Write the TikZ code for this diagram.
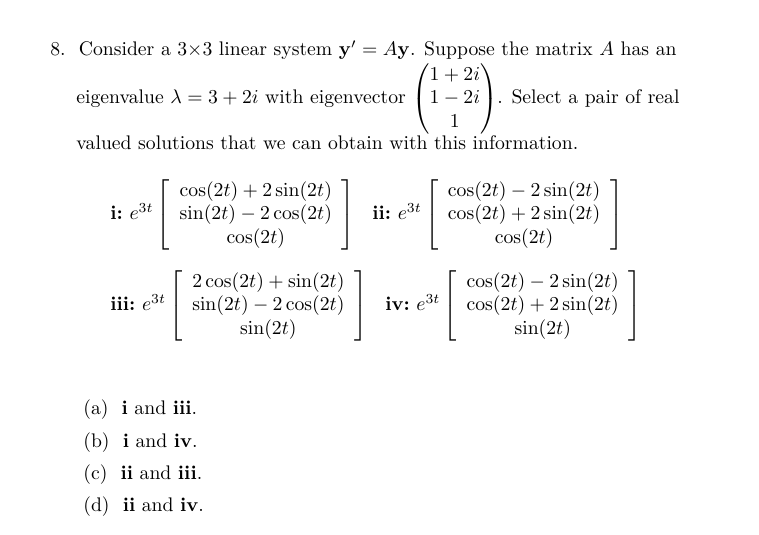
\documentclass[tikz,border=0pt]{standalone}
\usepackage{amsmath,amssymb}
\begin{document}
\begin{tikzpicture}[x=0.508pt,y=-0.508pt,txt/.style={anchor=base west,inner sep=0pt}]
\useasboundingbox (0,0) rectangle (759,535);
\node[txt] (l1) at (50,56) {8.\ \ Consider a $3{\times}3$ linear system $\mathbf{y}'=A\mathbf{y}$. Suppose the matrix $A$ has an};
\node[txt] (l2) at (76,104) {eigenvalue $\lambda=3+2i$ with eigenvector $\begin{pmatrix}1+2i\\1-2i\\1\end{pmatrix}$. Select a pair of real};
\node[txt] (l3) at (76,150) {valued solutions that we can obtain with this information.};
\node[anchor=west,inner sep=0pt] (m1) at (110,215) {\textbf{i:}\ $e^{3t}\left[\begin{array}{c}\cos(2t)+2\sin(2t)\\ \sin(2t)-2\cos(2t)\\ \cos(2t)\end{array}\right]$};
\node[anchor=west,inner sep=0pt] (m2) at (372,215) {\textbf{ii:}\ $e^{3t}\left[\begin{array}{c}\cos(2t)-2\sin(2t)\\ \cos(2t)+2\sin(2t)\\ \cos(2t)\end{array}\right]$};
\node[anchor=west,inner sep=0pt] (m3) at (110,306) {\textbf{iii:}\ $e^{3t}\left[\begin{array}{c}2\cos(2t)+\sin(2t)\\ \sin(2t)-2\cos(2t)\\ \sin(2t)\end{array}\right]$};
\node[anchor=west,inner sep=0pt] (m4) at (385,306) {\textbf{iv:}\ $e^{3t}\left[\begin{array}{c}\cos(2t)-2\sin(2t)\\ \cos(2t)+2\sin(2t)\\ \sin(2t)\end{array}\right]$};
\node[txt] (a) at (83,415) {(a)\ \ \textbf{i} and \textbf{iii}.};
\node[txt] (b) at (83,447) {(b)\ \ \textbf{i} and \textbf{iv}.};
\node[txt] (c) at (83,479) {(c)\ \ \textbf{ii} and \textbf{iii}.};
\node[txt] (d) at (83,512) {(d)\ \ \textbf{ii} and \textbf{iv}.};
\end{tikzpicture}
\end{document}
